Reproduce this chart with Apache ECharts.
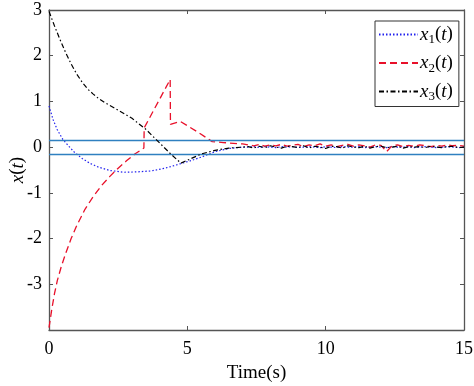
<!DOCTYPE html>
<html><head><meta charset="utf-8">
<script src="https://cdn.jsdelivr.net/npm/echarts@6/dist/echarts.min.js"></script>
<style>html,body{margin:0;padding:0;background:#fff}#c{width:474px;height:386px}</style>
</head><body><div id="c"></div>
<script>
// time axis ticks
var xTicks = [0, 5, 10, 15];
var yTicks = [-3, -2, -1, 0, 1, 2, 3];
var bandLimits = [0.15, -0.15];

// x1(t) transient
var x1T = [0, 0.15, 0.3, 0.5, 0.7, 0.9, 1.2, 1.5, 1.8, 2.2, 2.7, 3.2, 3.7, 4.2, 4.6, 5.1, 5.5, 6.0, 6.5, 7.0];
var x1V = [0.9, 0.6, 0.38, 0.17, 0.03, -0.1, -0.25, -0.36, -0.44, -0.51, -0.55, -0.54, -0.52, -0.46, -0.39, -0.3, -0.22, -0.1, -0.03, 0.0];
// x2(t) transient
var x2T = [0, 0.1, 0.2, 0.3, 0.45, 0.6, 0.8, 1.0, 1.3, 1.6, 1.9, 2.2, 2.5, 2.8, 3.1, 3.43, 3.44, 4.38, 4.39, 4.75, 5.0, 5.4, 5.9, 6.3, 7.0];
var x2V = [-3.95, -3.55, -3.2, -2.92, -2.6, -2.33, -2.0, -1.72, -1.36, -1.08, -0.84, -0.64, -0.46, -0.3, -0.15, -0.02, 0.42, 1.48, 0.5, 0.56, 0.47, 0.32, 0.12, 0.1, 0.07];
// x3(t) transient
var x3T = [0, 0.2, 0.4, 0.6, 0.8, 1.0, 1.2, 1.4, 1.6, 1.8, 2.0, 2.5, 3.0, 3.5, 4.0, 4.4, 4.77, 5.1, 5.5, 6.0, 6.5, 7.0];
var x3V = [2.97, 2.65, 2.35, 2.07, 1.82, 1.6, 1.42, 1.27, 1.16, 1.06, 0.98, 0.81, 0.63, 0.39, 0.09, -0.15, -0.35, -0.26, -0.15, -0.07, -0.02, 0.0];
// steady-state part
var noiseT = [7.2,7.4,7.6,7.8,8.0,8.2,8.4,8.6,8.8,9.0,9.2,9.4,9.6,9.8,10.0,10.2,10.4,10.6,10.8,11.0,11.2,11.4,11.6,11.8,12.0,12.2,12.4,12.6,12.8,13.0,13.2,13.4,13.6,13.8,14.0,14.2,14.4,14.6,14.8,15.0];
var x1N = [0.0,0.01,-0.01,0.01,0.0,-0.01,0.01,0.0,0.01,-0.01,0.0,0.01,0.0,-0.01,0.01,0.0,-0.01,0.01,0.0,0.0,0.01,-0.01,0.0,0.01,0.0,-0.01,0.01,0.0,0.0,0.01,-0.01,0.0,0.01,0.0,-0.01,0.0,0.01,0.0,-0.01,0.0];
var x2N = [0.05,0.03,0.06,0.02,0.05,0.03,0.06,0.02,0.04,0.06,0.01,0.05,0.03,0.07,0.02,0.05,0.01,0.04,0.06,0.02,0.05,0.03,0.0,0.05,0.04,-0.1,0.03,0.05,0.01,0.04,0.02,0.05,0.03,0.01,0.04,0.02,0.05,0.03,0.04,0.02];
var x3N = [0.01,-0.02,0.02,-0.01,0.03,0.0,-0.02,0.02,0.01,-0.01,0.03,-0.02,0.02,0.0,-0.03,0.02,0.01,-0.02,0.03,0.0,-0.01,0.02,-0.02,0.01,0.02,-0.01,0.0,0.02,-0.02,0.01,0.0,0.01,-0.01,0.02,0.0,-0.01,0.01,0.02,-0.01,0.0];

function pairs(t, v) { var o = []; for (var i = 0; i < t.length; i++) o.push([t[i], v[i]]); return o; }

var FF = '"Liberation Serif", "Times New Roman", serif';
var axisCol = '#555';
var chart = echarts.init(document.getElementById('c'));
var baseX = { type: 'value', min: 0, max: 15, interval: 5,
  axisLine: { show: true, onZero: false, lineStyle: { color: axisCol, width: 1.3 } },
  axisTick: { show: true, inside: true, length: 4, lineStyle: { color: axisCol } },
  splitLine: { show: false } };
var baseY = { type: 'value', min: -4, max: 3, interval: 1,
  axisLine: { show: true, onZero: false, lineStyle: { color: axisCol, width: 1.3 } },
  axisTick: { show: true, inside: true, length: 4, lineStyle: { color: axisCol } },
  splitLine: { show: false } };

var legendRich = {
  i: { fontFamily: FF, fontSize: 19, fontStyle: 'italic', color: '#000' },
  n: { fontFamily: FF, fontSize: 19, color: '#000' },
  s: { fontFamily: FF, fontSize: 13, color: '#000', padding: [11, 0, 0, 0] }
};

chart.setOption({
  animation: false,
  backgroundColor: '#fff',
  grid: { left: 49, right: 10, top: 10, bottom: 56, containLabel: false, outerBoundsMode: 'none' },
  xAxis: [
    Object.assign({}, baseX, { position: 'bottom', name: 'Time(s)', nameLocation: 'middle', nameGap: 34, nameMoveOverlap: false,
      nameTextStyle: { fontFamily: FF, fontSize: 19, color: '#000' },
      axisLabel: { show: true, margin: 10, fontFamily: FF, fontSize: 18, color: '#000' } }),
    Object.assign({}, baseX, { position: 'top', axisLabel: { show: false } })
  ],
  yAxis: [
    Object.assign({}, baseY, { position: 'left', name: '{i|x}{n|(}{i|t}{n|)}', nameLocation: 'middle', nameGap: 22, nameMoveOverlap: false,
      nameTextStyle: { rich: { i: { fontFamily: FF, fontSize: 19, fontStyle: 'italic', color: '#000' }, n: { fontFamily: FF, fontSize: 19, color: '#000' } } },
      axisLabel: { show: true, margin: 7, fontFamily: FF, fontSize: 18, color: '#000',
        formatter: function (v) { return yTicks.indexOf(v) >= 0 ? String(v) : ''; } } }),
    Object.assign({}, baseY, { position: 'right', axisLabel: { show: false } })
  ],
  legend: {
    orient: 'vertical', left: 375, top: 21,
    backgroundColor: '#fff', borderColor: '#333', borderWidth: 1,
    padding: [4, 6, 3, 3], itemGap: 7, itemWidth: 39, itemHeight: 14,
    itemStyle: { opacity: 0 },
    data: ['x1', 'x2', 'x3'],
    formatter: function (name) { return '{i|x}{s|' + name.slice(1) + '}{n|(}{i|t}{n|)}'; },
    textStyle: { rich: legendRich, padding: [0, 0, 0, -3] }
  },
  series: [
    { name: 'x1', type: 'line', showSymbol: false, symbol: 'none', data: pairs(x1T.concat(noiseT), x1V.concat(x1N)),
      lineStyle: { color: '#2020ee', width: 1.2, type: [1.5, 2] }, itemStyle: { color: '#2020ee' }, z: 3 },
    { name: 'x2', type: 'line', showSymbol: false, symbol: 'none', data: pairs(x2T.concat(noiseT), x2V.concat(x2N)),
      lineStyle: { color: '#e8102a', width: 1.3, type: [7, 4] }, itemStyle: { color: '#e8102a' }, z: 4 },
    { name: 'x3', type: 'line', showSymbol: false, symbol: 'none', data: pairs(x3T.concat(noiseT), x3V.concat(x3N)),
      lineStyle: { color: '#000', width: 1.2, type: [5, 2.5, 1.5, 2.5] }, itemStyle: { color: '#000' }, z: 5,
      markLine: { silent: true, symbol: 'none', label: { show: false },
        lineStyle: { color: '#2f80c0', width: 1.3, type: 'solid' },
        data: bandLimits.map(function (b) { return { yAxis: b }; }) } }
  ]
});
</script></body></html>
